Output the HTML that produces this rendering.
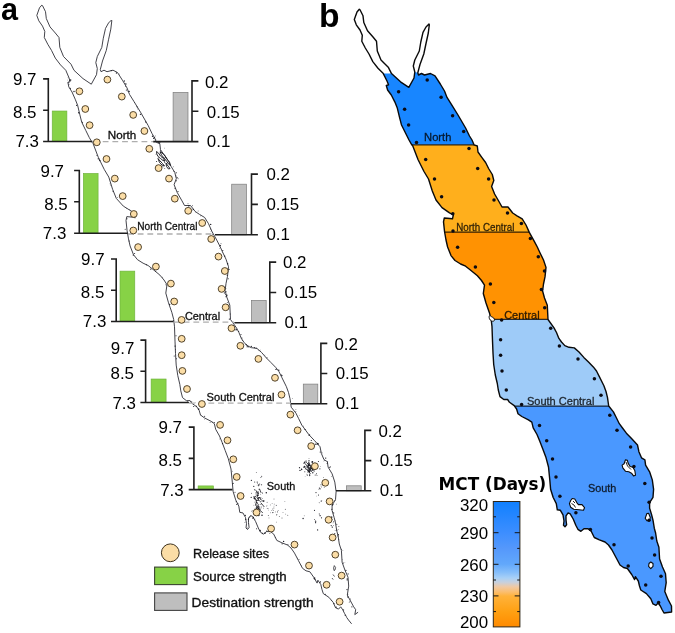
<!DOCTYPE html>
<html lang="en"><head><meta charset="utf-8"><title>Connectivity figure</title>
<style>html,body{margin:0;padding:0;background:#fff}svg{display:block}.n{font-family:"Liberation Sans",Arial,sans-serif;font-size:16.9px;fill:#000}.r{font-family:"Liberation Sans",Arial,sans-serif;font-size:10.9px;fill:#111;stroke:#111;stroke-width:0.3px}.rb{font-family:"Liberation Sans",Arial,sans-serif;font-size:10.9px;fill:#000;stroke:#000;stroke-width:0.3px;opacity:0.82}.lg{font-family:"Liberation Sans",Arial,sans-serif;font-size:13.6px;fill:#111;stroke:#111;stroke-width:0.35px}.pl{font-family:"Liberation Sans",Arial,sans-serif;font-size:32px;font-weight:bold;fill:#000}.ct{font-family:"DejaVu Sans","Liberation Sans",sans-serif;font-size:18px;font-weight:bold;fill:#000}</style></head><body>
<svg width="675" height="633" viewBox="0 0 675 633">
<rect width="675" height="633" fill="#fff"/>
<defs>
<clipPath id="body"><path d="M383.3 73.6 L387.0 81.0 L388.5 84.8 L386.3 85.5 L387.6 90.0 L391.3 95.0 L394.9 102.1 L397.3 108.1 L399.6 117.6 L401.4 124.7 L405.5 133.0 L409.0 140.0 L411.8 144.8 L412.8 146.0 L418.0 159.5 L424.0 171.5 L428.5 179.0 L432.3 191.0 L436.0 200.0 L442.0 207.6 L449.5 212.8 L453.3 215.0 L452.5 218.8 L444.3 218.0 L443.5 221.8 L444.6 232.0 L446.0 240.0 L447.6 247.0 L451.0 255.6 L455.0 260.5 L460.6 264.0 L465.6 266.2 L471.0 270.5 L477.4 275.7 L481.5 280.5 L484.5 285.2 L483.3 293.5 L486.0 303.0 L489.3 312.4 L491.2 319.5 L492.0 326.7 L492.5 340.8 L493.0 353.0 L493.7 364.5 L495.3 375.0 L497.3 383.5 L498.3 390.0 L500.0 396.6 L503.8 399.5 L507.6 399.5 L509.5 402.3 L514.2 405.6 L516.6 409.0 L518.0 413.7 L521.8 416.5 L528.4 419.9 L531.8 422.2 L533.2 427.9 L537.0 434.5 L539.8 441.2 L542.7 448.8 L545.8 456.9 L548.5 467.0 L549.8 480.0 L550.6 489.2 L553.2 497.5 L556.3 503.6 L557.3 509.8 L560.4 510.3 L563.0 514.9 L564.0 521.0 L563.5 525.2 L565.0 526.7 L566.6 524.7 L566.0 520.0 L566.0 515.9 L568.1 512.9 L570.2 513.9 L573.2 519.0 L575.8 525.2 L577.9 529.3 L580.9 531.3 L584.0 528.8 L588.1 528.8 L591.2 531.3 L594.3 537.5 L599.4 539.8 L605.0 542.0 L608.5 545.0 L612.0 550.0 L616.0 557.5 L620.0 565.0 L623.5 567.5 L627.4 568.5 L631.7 574.5 L634.6 579.6 L635.4 576.7 L638.3 581.0 L639.5 586.0 L640.8 590.0 L646.4 593.6 L650.8 598.7 L653.0 603.9 L656.0 605.3 L658.2 603.0 L660.3 606.0 L662.0 609.5 L664.0 613.0 L671.6 612.0 L671.5 606.0 L668.4 600.2 L664.8 591.4 L666.2 582.6 L665.5 573.8 L662.5 567.0 L659.6 559.0 L658.9 547.3 L656.8 541.0 L655.6 533.0 L654.3 528.2 L653.0 520.2 L651.6 514.8 L649.6 508.1 L649.6 502.7 L653.0 497.3 L653.6 489.3 L652.3 479.9 L649.6 471.8 L645.6 465.1 L644.9 459.8 L641.5 457.8 L638.9 451.7 L637.5 445.0 L632.0 439.0 L626.4 433.2 L622.5 428.0 L619.3 423.7 L616.0 417.0 L613.4 411.9 L608.7 406.0 L607.5 397.7 L606.0 391.5 L603.9 385.8 L599.2 376.4 L596.5 371.0 L593.3 366.9 L588.5 362.0 L583.8 357.4 L579.0 352.0 L574.3 347.9 L569.0 347.3 L564.8 345.6 L561.5 342.0 L558.9 338.4 L556.5 332.5 L554.0 327.8 L548.0 319.5 L547.3 305.3 L544.5 298.0 L542.6 291.0 L543.5 284.0 L545.0 276.9 L546.0 267.4 L543.5 260.0 L540.2 253.2 L537.3 247.0 L534.3 241.3 L529.3 232.4 L526.0 225.0 L522.2 218.9 L517.0 215.8 L512.7 213.0 L508.0 207.0 L502.0 207.0 L499.5 202.5 L494.6 194.0 L491.6 186.5 L493.8 180.5 L492.3 174.5 L488.6 168.5 L485.6 162.5 L481.8 157.3 L478.0 152.0 L477.3 146.0 L474.0 144.8 L472.0 140.0 L469.5 136.0 L465.6 128.0 L458.0 115.0 L451.4 104.3 L447.0 97.4 L444.5 91.0 L440.3 84.0 L435.0 75.8 L430.5 73.5 L424.5 75.0 L421.5 73.5 L418.5 75.0 L417.8 72.8 L414.8 72.0 L414.0 78.0 L408.8 87.3 L400.5 81.8 L391.5 73.6 Z"/></clipPath>
<linearGradient id="cb" x1="0" y1="0" x2="0" y2="1"><stop offset="0" stop-color="#1080FF"/><stop offset="0.25" stop-color="#3D8EFF"/><stop offset="0.375" stop-color="#5598FB"/><stop offset="0.5" stop-color="#62A8FB"/><stop offset="0.565" stop-color="#86BEFA"/><stop offset="0.61" stop-color="#A8D0F6"/><stop offset="0.645" stop-color="#C8D0DC"/><stop offset="0.68" stop-color="#EFC9A4"/><stop offset="0.72" stop-color="#FBBE70"/><stop offset="0.755" stop-color="#FFB23A"/><stop offset="0.88" stop-color="#FFA012"/><stop offset="1" stop-color="#FF8A00"/></linearGradient>
</defs>
<g id="panel-a">
<text class="pl" style="font-size:30.6px" x="0.9" y="19.5">a</text>
<path d="M41.8 5.1 L39.5 7.8 L36.8 15.4 L38.8 20.8 L42.5 26.1 L44.8 31.4 L44.3 37.5 L47.8 44.3 L51.5 50.4 L55.3 58.1 L60.5 64.9 L65.8 70.3 L69.0 77.8 L70.1 81.6 L67.9 82.3 L68.8 86.9 L72.0 92.0 L75.2 99.2 L77.6 105.2 L79.9 114.9 L81.7 122.1 L85.8 130.5 L89.3 137.6 L92.1 142.4 L93.1 143.6 L98.3 157.3 L104.3 169.5 L108.8 177.1 L112.6 189.3 L116.3 198.4 L123.3 206.1 L131.6 211.3 L135.7 213.6 L135.0 217.4 L126.8 216.6 L126.0 220.5 L127.1 230.8 L128.5 238.9 L130.1 246.0 L133.5 254.7 L137.5 259.7 L143.1 263.2 L148.1 265.5 L153.5 269.8 L159.9 275.1 L164.0 280.0 L167.0 284.7 L165.8 293.1 L168.5 302.8 L171.8 312.3 L173.7 319.5 L174.5 326.8 L175.0 341.1 L175.5 353.4 L176.2 365.1 L177.8 375.7 L179.8 384.3 L180.8 390.9 L182.5 397.6 L186.3 400.6 L190.1 400.6 L192.0 403.4 L196.7 406.7 L199.1 410.2 L200.5 415.0 L204.3 417.8 L210.9 421.2 L214.3 423.6 L215.7 429.3 L219.5 436.0 L222.3 442.8 L225.2 450.5 L228.3 458.7 L231.0 469.0 L232.3 482.2 L233.1 491.5 L235.7 499.9 L238.8 506.1 L239.8 512.4 L242.9 512.9 L245.5 517.5 L246.5 523.7 L246.0 528.0 L247.5 529.5 L249.1 527.5 L248.5 522.7 L248.5 518.5 L250.6 515.5 L252.7 516.5 L255.7 521.7 L258.3 528.0 L260.4 532.1 L263.4 534.1 L266.5 531.6 L270.6 531.6 L273.7 534.1 L276.8 540.4 L281.9 542.8 L287.5 545.0 L291.0 548.0 L294.5 553.1 L298.5 560.7 L302.5 568.3 L306.0 570.8 L309.9 571.8 L314.2 577.9 L317.1 583.1 L317.9 580.2 L320.8 584.5 L322.0 589.6 L323.3 593.6 L328.9 597.3 L333.3 602.5 L335.5 607.7 L338.5 609.1 L340.7 606.8 L342.8 609.9 L344.5 613.4 L346.5 616.9" fill="none" stroke="#2e2e36" stroke-width="0.9" stroke-linejoin="round"/>
<path d="M41.8 5.3 L42.5 5.6 L45.5 11.7 L46.3 18.5 L50.0 26.9 L55.3 33.0 L59.0 37.5 L59.8 47.4 L63.5 56.5 L71.0 64.2 L74.0 70.3 L83.0 78.6 L91.3 84.2 L96.5 74.7 L97.3 68.6 L95.8 62.6 L97.3 56.5 L101.8 47.4 L103.3 38.2 L105.5 28.4 L108.5 23.0 L111.5 20.0 L111.8 20.8 L110.8 29.1 L108.5 39.8 L106.3 50.4 L102.5 61.0 L100.3 69.5 L101.0 71.7 L104.0 70.2 L107.0 71.7 L113.0 70.2 L117.5 72.5 L122.8 80.8 L127.0 87.9 L129.5 94.4 L133.9 101.4 L140.5 112.2 L148.1 125.4 L152.0 133.5 L154.5 137.6 L156.5 142.4 L159.8 143.6 L160.5 149.7 L164.3 155.1 L168.1 160.4 L171.1 166.4 L174.8 172.5 L176.3 178.6 L174.1 184.7 L177.1 192.3 L182.0 200.9 L184.5 205.5 L190.5 205.5 L195.2 211.5 L199.5 214.4 L204.7 217.5 L208.5 223.7 L211.8 231.2 L216.8 240.2 L219.8 246.0 L222.7 252.3 L226.0 259.2 L228.5 266.7 L227.5 276.3 L226.0 283.5 L225.1 290.6 L227.0 297.7 L229.8 305.1 L230.5 319.5 L236.5 327.9 L239.0 332.7 L241.4 338.6 L244.0 342.3 L247.3 345.9 L251.5 347.7 L256.8 348.3 L261.5 352.4 L266.3 357.9 L271.0 362.6 L275.8 367.5 L279.0 371.7 L281.7 377.2 L286.4 386.7 L288.5 392.5 L290.0 398.7 L291.2 407.2 L295.9 413.1 L298.5 418.3 L301.8 425.1 L305.0 429.4 L308.9 434.7 L314.5 440.6 L320.0 446.7 L321.4 453.5 L324.0 459.7 L327.4 461.7 L328.1 467.1 L332.1 473.8 L334.8 482.1 L336.1 491.6 L335.5 499.7 L332.1 505.2 L332.1 510.6 L334.1 517.4 L335.5 522.9 L336.8 531.0 L338.1 535.9 L339.3 544.0 L341.4 550.4 L342.1 562.2 L345.0 570.3 L348.0 577.2 L348.7 586.1 L347.3 595.1 L353.7 606.8 L355.7 609.7 L354.8 614.6 L358.1 612.2" fill="none" stroke="#2e2e36" stroke-width="0.9" stroke-linejoin="round"/>
<path d="M346.5 617.2 L348.5 620 L351.6 623.8" fill="none" stroke="#2e2e36" stroke-width="0.9"/>
<g fill="#1a1a22"><circle cx="256.7" cy="507.6" r="0.59"/><circle cx="261.1" cy="507.9" r="0.46"/><circle cx="261.1" cy="506.8" r="0.32"/><circle cx="256.4" cy="504.4" r="0.34"/><circle cx="252.2" cy="510.7" r="0.36"/><circle cx="258.3" cy="515.5" r="0.73"/><circle cx="254.7" cy="498.8" r="0.74"/><circle cx="263.6" cy="508.1" r="0.43"/><circle cx="258.5" cy="506.5" r="0.44"/><circle cx="258.3" cy="497.8" r="0.56"/><circle cx="255.5" cy="496.3" r="0.55"/><circle cx="258.5" cy="504.2" r="0.39"/><circle cx="256.1" cy="494.4" r="0.44"/><circle cx="254.5" cy="497.9" r="0.43"/><circle cx="258.9" cy="489.6" r="0.41"/><circle cx="254.0" cy="498.0" r="0.69"/><circle cx="257.2" cy="495.6" r="0.74"/><circle cx="260.0" cy="509.3" r="0.64"/><circle cx="259.6" cy="511.5" r="0.32"/><circle cx="254.8" cy="489.7" r="0.56"/><circle cx="259.5" cy="497.5" r="0.61"/><circle cx="254.0" cy="496.4" r="0.51"/><circle cx="261.6" cy="484.7" r="0.51"/><circle cx="256.9" cy="500.3" r="0.62"/><circle cx="251.4" cy="480.3" r="0.67"/><circle cx="256.8" cy="511.7" r="0.60"/><circle cx="261.0" cy="504.4" r="0.38"/><circle cx="258.3" cy="505.1" r="0.65"/><circle cx="259.2" cy="507.9" r="0.48"/><circle cx="258.4" cy="500.3" r="0.50"/><circle cx="251.2" cy="497.3" r="0.67"/><circle cx="259.2" cy="497.5" r="0.49"/><circle cx="253.3" cy="517.5" r="0.73"/><circle cx="258.7" cy="507.6" r="0.40"/><circle cx="257.9" cy="513.3" r="0.57"/><circle cx="257.5" cy="503.8" r="0.49"/><circle cx="254.7" cy="511.5" r="0.73"/><circle cx="256.1" cy="492.9" r="0.58"/><circle cx="257.0" cy="500.3" r="0.70"/><circle cx="258.7" cy="485.0" r="0.66"/><circle cx="255.0" cy="508.7" r="0.35"/><circle cx="256.7" cy="500.6" r="0.33"/><circle cx="258.0" cy="508.2" r="0.45"/><circle cx="257.6" cy="503.1" r="0.37"/><circle cx="259.9" cy="508.1" r="0.31"/><circle cx="260.6" cy="494.2" r="0.37"/><circle cx="257.5" cy="511.3" r="0.46"/><circle cx="262.0" cy="515.2" r="0.75"/><circle cx="253.9" cy="505.2" r="0.34"/><circle cx="259.8" cy="507.9" r="0.42"/><circle cx="258.4" cy="498.3" r="0.31"/><circle cx="261.2" cy="499.7" r="0.37"/><circle cx="256.8" cy="502.4" r="0.54"/><circle cx="263.8" cy="500.6" r="0.61"/><circle cx="257.3" cy="511.6" r="0.38"/><circle cx="258.0" cy="492.0" r="0.65"/><circle cx="256.4" cy="508.6" r="0.67"/><circle cx="263.7" cy="501.3" r="0.66"/><circle cx="259.7" cy="489.6" r="0.40"/><circle cx="254.5" cy="502.1" r="0.31"/><circle cx="260.1" cy="504.3" r="0.42"/><circle cx="254.7" cy="481.9" r="0.50"/><circle cx="266.3" cy="492.7" r="0.73"/><circle cx="256.0" cy="507.8" r="0.40"/><circle cx="258.2" cy="508.7" r="0.58"/><circle cx="262.5" cy="492.9" r="0.52"/><circle cx="254.2" cy="489.8" r="0.34"/><circle cx="253.8" cy="486.3" r="0.65"/><circle cx="257.5" cy="492.7" r="0.38"/><circle cx="258.2" cy="495.2" r="0.66"/><circle cx="260.7" cy="501.4" r="0.48"/><circle cx="262.4" cy="498.3" r="0.38"/><circle cx="258.8" cy="506.7" r="0.71"/><circle cx="258.1" cy="498.3" r="0.67"/><circle cx="262.1" cy="501.4" r="0.46"/><circle cx="255.9" cy="501.6" r="0.31"/><circle cx="262.1" cy="500.6" r="0.54"/><circle cx="260.6" cy="499.1" r="0.69"/><circle cx="258.5" cy="497.5" r="0.41"/><circle cx="256.9" cy="509.4" r="0.56"/><circle cx="257.3" cy="512.4" r="0.36"/><circle cx="260.0" cy="498.5" r="0.51"/><circle cx="251.5" cy="493.2" r="0.49"/><circle cx="260.8" cy="497.8" r="0.54"/><circle cx="256.9" cy="502.7" r="0.50"/><circle cx="273.3" cy="510.4" r="0.46"/><circle cx="276.7" cy="515.0" r="0.45"/><circle cx="267.2" cy="508.5" r="0.40"/><circle cx="261.5" cy="507.0" r="0.32"/><circle cx="268.1" cy="508.6" r="0.36"/><circle cx="274.2" cy="504.1" r="0.41"/><circle cx="274.0" cy="499.0" r="0.39"/><circle cx="266.7" cy="506.1" r="0.40"/><circle cx="270.3" cy="504.9" r="0.41"/><circle cx="256.5" cy="511.6" r="0.44"/><circle cx="284.9" cy="501.6" r="0.35"/><circle cx="257.4" cy="505.6" r="0.47"/><circle cx="275.3" cy="511.9" r="0.39"/><circle cx="277.7" cy="511.6" r="0.31"/><circle cx="267.1" cy="502.3" r="0.48"/><circle cx="279.3" cy="516.5" r="0.43"/><circle cx="282.0" cy="518.1" r="0.49"/><circle cx="276.3" cy="522.1" r="0.38"/><circle cx="251.9" cy="511.2" r="0.47"/><circle cx="276.9" cy="514.5" r="0.40"/><circle cx="270.5" cy="512.8" r="0.36"/><circle cx="272.8" cy="509.0" r="0.41"/><circle cx="271.8" cy="510.3" r="0.37"/><circle cx="267.0" cy="505.8" r="0.31"/><circle cx="285.3" cy="509.2" r="0.49"/><circle cx="277.4" cy="512.4" r="0.31"/><circle cx="274.0" cy="506.1" r="0.33"/><circle cx="259.4" cy="515.2" r="0.46"/><circle cx="272.8" cy="512.8" r="0.48"/><circle cx="263.2" cy="506.7" r="0.32"/><circle cx="283.0" cy="512.7" r="0.39"/><circle cx="287.8" cy="515.2" r="0.43"/><circle cx="273.9" cy="508.0" r="0.47"/><circle cx="285.7" cy="514.1" r="0.39"/><circle cx="268.3" cy="515.4" r="0.49"/><circle cx="272.6" cy="512.6" r="0.41"/><circle cx="273.2" cy="512.4" r="0.33"/><circle cx="277.5" cy="511.0" r="0.36"/><circle cx="269.0" cy="517.9" r="0.36"/><circle cx="268.6" cy="510.0" r="0.37"/><circle cx="278.3" cy="510.4" r="0.30"/><circle cx="272.1" cy="503.7" r="0.34"/><circle cx="256.9" cy="511.8" r="0.32"/><circle cx="276.1" cy="505.2" r="0.40"/><circle cx="276.5" cy="505.7" r="0.40"/><circle cx="256.3" cy="472.5" r="0.40"/><circle cx="260.9" cy="477.6" r="0.49"/><circle cx="257.1" cy="485.1" r="0.32"/><circle cx="259.7" cy="484.1" r="0.52"/><circle cx="258.9" cy="485.4" r="0.33"/><circle cx="261.7" cy="476.2" r="0.50"/><circle cx="258.6" cy="485.9" r="0.39"/><circle cx="257.6" cy="483.6" r="0.43"/><circle cx="258.5" cy="493.2" r="0.59"/><circle cx="257.2" cy="482.1" r="0.59"/><circle cx="307.3" cy="472.4" r="0.30"/><circle cx="304.8" cy="471.8" r="0.50"/><circle cx="310.8" cy="473.6" r="0.30"/><circle cx="308.8" cy="470.2" r="0.46"/><circle cx="310.0" cy="468.3" r="0.42"/><circle cx="309.7" cy="474.6" r="0.51"/><circle cx="309.0" cy="460.7" r="0.59"/><circle cx="312.6" cy="464.6" r="0.43"/><circle cx="311.8" cy="467.7" r="0.59"/><circle cx="308.1" cy="466.8" r="0.63"/><circle cx="314.5" cy="463.6" r="0.59"/><circle cx="310.0" cy="465.5" r="0.51"/><circle cx="299.5" cy="467.7" r="0.62"/><circle cx="312.1" cy="462.1" r="0.66"/><circle cx="305.9" cy="461.0" r="0.39"/><circle cx="311.6" cy="468.5" r="0.44"/><circle cx="316.5" cy="473.8" r="0.52"/><circle cx="304.1" cy="463.0" r="0.57"/><circle cx="308.6" cy="468.0" r="0.62"/><circle cx="308.9" cy="462.1" r="0.51"/><circle cx="308.0" cy="466.4" r="0.59"/><circle cx="309.0" cy="470.0" r="0.41"/><circle cx="308.6" cy="464.6" r="0.60"/><circle cx="314.8" cy="467.1" r="0.45"/><circle cx="301.5" cy="469.0" r="0.61"/><circle cx="303.7" cy="463.2" r="0.33"/><circle cx="311.3" cy="471.1" r="0.60"/><circle cx="306.8" cy="474.1" r="0.30"/><circle cx="312.7" cy="469.5" r="0.57"/><circle cx="306.3" cy="461.0" r="0.42"/><circle cx="303.4" cy="467.4" r="0.49"/><circle cx="316.8" cy="475.2" r="0.38"/><circle cx="320.6" cy="466.4" r="0.31"/><circle cx="300.0" cy="470.4" r="0.69"/><circle cx="305.2" cy="469.2" r="0.38"/><circle cx="312.2" cy="466.8" r="0.53"/><circle cx="312.8" cy="472.7" r="0.68"/><circle cx="315.2" cy="474.9" r="0.50"/><circle cx="314.9" cy="462.9" r="0.39"/><circle cx="313.6" cy="464.5" r="0.31"/><circle cx="314.8" cy="468.1" r="0.48"/><circle cx="308.1" cy="470.6" r="0.44"/><circle cx="305.1" cy="476.8" r="0.30"/><circle cx="309.0" cy="458.4" r="0.35"/><circle cx="316.1" cy="464.5" r="0.66"/><circle cx="308.7" cy="470.5" r="0.52"/><circle cx="313.8" cy="467.5" r="0.50"/><circle cx="307.2" cy="468.6" r="0.33"/><circle cx="314.4" cy="471.1" r="0.46"/><circle cx="311.7" cy="466.5" r="0.45"/><circle cx="307.4" cy="467.4" r="0.51"/><circle cx="315.9" cy="465.7" r="0.75"/><circle cx="304.7" cy="462.3" r="0.82"/><circle cx="304.6" cy="465.9" r="0.33"/><circle cx="309.1" cy="464.0" r="0.71"/><circle cx="307.9" cy="465.4" r="0.33"/><circle cx="311.0" cy="466.8" r="0.56"/><circle cx="308.0" cy="469.7" r="0.71"/><circle cx="312.0" cy="467.1" r="0.66"/><circle cx="308.2" cy="471.4" r="0.52"/><circle cx="310.4" cy="469.1" r="0.41"/><circle cx="312.6" cy="465.4" r="0.42"/><circle cx="318.4" cy="461.5" r="0.55"/><circle cx="310.8" cy="469.1" r="0.35"/><circle cx="308.7" cy="468.7" r="0.43"/><circle cx="309.3" cy="471.6" r="0.79"/><circle cx="309.5" cy="464.2" r="0.53"/><circle cx="306.4" cy="467.0" r="0.49"/><circle cx="311.9" cy="468.5" r="0.83"/><circle cx="312.2" cy="470.2" r="0.65"/><circle cx="311.0" cy="465.8" r="0.45"/><circle cx="309.5" cy="470.7" r="0.55"/><circle cx="315.5" cy="465.7" r="0.78"/><circle cx="310.3" cy="467.6" r="0.69"/><circle cx="312.4" cy="465.3" r="0.62"/><circle cx="312.7" cy="467.5" r="0.81"/><circle cx="312.4" cy="461.9" r="0.83"/><circle cx="309.5" cy="469.0" r="0.38"/><circle cx="304.7" cy="466.8" r="0.82"/><circle cx="308.7" cy="463.0" r="0.72"/><circle cx="305.6" cy="468.6" r="0.32"/><circle cx="310.0" cy="465.2" r="0.81"/><circle cx="307.8" cy="465.3" r="0.37"/><circle cx="309.4" cy="472.1" r="0.68"/><circle cx="310.4" cy="468.3" r="0.59"/><circle cx="306.7" cy="465.9" r="0.42"/><circle cx="309.1" cy="467.2" r="0.47"/><circle cx="301.7" cy="469.5" r="0.65"/><circle cx="312.2" cy="465.1" r="0.43"/><circle cx="309.7" cy="475.6" r="0.69"/><circle cx="309.3" cy="468.1" r="0.57"/><circle cx="308.0" cy="464.5" r="0.44"/><circle cx="305.9" cy="461.2" r="0.42"/><circle cx="312.3" cy="468.1" r="0.53"/><circle cx="308.6" cy="465.6" r="0.74"/><circle cx="309.2" cy="463.7" r="0.41"/><circle cx="312.2" cy="467.0" r="0.75"/><circle cx="309.8" cy="469.7" r="0.72"/><circle cx="307.3" cy="475.1" r="0.57"/><circle cx="310.4" cy="469.6" r="0.53"/><circle cx="317.3" cy="475.5" r="0.34"/><circle cx="319.4" cy="488.1" r="0.59"/><circle cx="321.6" cy="487.3" r="0.32"/><circle cx="316.0" cy="492.6" r="0.57"/><circle cx="319.9" cy="468.8" r="0.58"/><circle cx="320.1" cy="488.8" r="0.58"/><circle cx="321.0" cy="484.7" r="0.50"/><circle cx="318.9" cy="489.3" r="0.40"/><circle cx="321.1" cy="486.3" r="0.38"/><circle cx="316.5" cy="496.0" r="0.34"/><circle cx="323.0" cy="485.2" r="0.41"/><circle cx="323.4" cy="477.6" r="0.43"/><circle cx="324.2" cy="487.7" r="0.41"/><circle cx="322.7" cy="484.4" r="0.41"/><circle cx="319.2" cy="513.7" r="0.46"/><circle cx="321.9" cy="500.8" r="0.32"/><circle cx="320.1" cy="515.7" r="0.67"/><circle cx="317.6" cy="529.9" r="0.66"/><circle cx="315.5" cy="521.1" r="0.68"/><circle cx="314.5" cy="510.3" r="0.59"/><circle cx="316.0" cy="521.6" r="0.30"/><circle cx="318.5" cy="495.0" r="0.55"/><circle cx="319.2" cy="514.3" r="0.39"/><circle cx="303.1" cy="518.5" r="0.68"/><circle cx="314.5" cy="519.5" r="0.47"/><circle cx="304.2" cy="515.8" r="0.37"/><circle cx="321.2" cy="501.1" r="0.63"/><circle cx="319.2" cy="502.8" r="0.43"/><circle cx="315.6" cy="522.7" r="0.61"/><circle cx="321.5" cy="517.8" r="0.60"/><circle cx="333.0" cy="522.9" r="0.31"/><circle cx="331.7" cy="517.7" r="0.69"/><circle cx="336.3" cy="504.1" r="0.41"/><circle cx="333.6" cy="521.8" r="0.50"/><circle cx="332.6" cy="511.6" r="0.39"/><circle cx="331.2" cy="525.6" r="0.57"/><circle cx="333.0" cy="504.5" r="0.57"/><circle cx="335.1" cy="530.6" r="0.42"/><circle cx="331.7" cy="516.8" r="0.60"/><circle cx="333.4" cy="525.7" r="0.40"/><circle cx="334.8" cy="533.6" r="0.53"/><circle cx="332.3" cy="527.1" r="0.70"/><circle cx="331.9" cy="519.7" r="0.62"/><circle cx="330.4" cy="499.8" r="0.34"/><circle cx="156.6" cy="161.5" r="0.55"/><circle cx="163.9" cy="159.3" r="0.39"/><circle cx="164.7" cy="162.2" r="0.59"/><circle cx="156.0" cy="154.2" r="0.41"/><circle cx="165.5" cy="155.9" r="0.38"/><circle cx="164.5" cy="148.1" r="0.33"/><circle cx="159.0" cy="156.0" r="0.37"/><circle cx="161.7" cy="162.0" r="0.36"/><circle cx="162.9" cy="166.8" r="0.50"/><circle cx="163.2" cy="160.7" r="0.40"/><circle cx="162.0" cy="157.1" r="0.39"/><circle cx="164.8" cy="168.5" r="0.46"/><circle cx="164.5" cy="160.9" r="0.42"/><circle cx="158.2" cy="157.8" r="0.33"/><circle cx="135.0" cy="217.8" r="0.57"/><circle cx="210.1" cy="422.2" r="0.44"/><circle cx="204.6" cy="416.2" r="0.56"/><circle cx="198.5" cy="409.3" r="0.66"/><circle cx="212.3" cy="422.1" r="0.45"/><circle cx="325.3" cy="594.3" r="0.56"/><circle cx="196.3" cy="406.5" r="0.50"/><circle cx="126.5" cy="208.4" r="0.33"/><circle cx="195.1" cy="402.8" r="0.38"/><circle cx="117.6" cy="197.4" r="0.43"/><circle cx="256.6" cy="528.8" r="0.55"/><circle cx="345.2" cy="615.2" r="0.55"/><circle cx="260.4" cy="531.0" r="0.39"/><circle cx="200.9" cy="415.4" r="0.36"/><circle cx="314.1" cy="578.6" r="0.64"/><circle cx="287.9" cy="544.7" r="0.54"/><circle cx="247.5" cy="528.0" r="0.42"/><circle cx="155.7" cy="271.2" r="0.48"/><circle cx="68.9" cy="82.3" r="0.48"/><circle cx="262.2" cy="533.8" r="0.49"/><circle cx="98.2" cy="158.8" r="0.62"/><circle cx="238.5" cy="503.4" r="0.33"/><circle cx="315.0" cy="579.2" r="0.60"/><circle cx="191.4" cy="402.2" r="0.33"/><circle cx="260.1" cy="530.5" r="0.69"/><circle cx="233.1" cy="483.4" r="0.57"/><circle cx="314.7" cy="577.8" r="0.60"/><circle cx="134.0" cy="213.5" r="0.48"/><circle cx="162.5" cy="277.2" r="0.41"/><circle cx="236.0" cy="501.8" r="0.46"/><circle cx="269.5" cy="529.9" r="0.37"/><circle cx="333.9" cy="603.6" r="0.64"/><circle cx="219.4" cy="438.9" r="0.34"/><circle cx="244.9" cy="522.4" r="0.41"/><circle cx="187.5" cy="401.7" r="0.48"/><circle cx="127.0" cy="218.8" r="0.51"/><circle cx="176.0" cy="335.8" r="0.57"/><circle cx="175.4" cy="349.5" r="0.42"/><circle cx="262.8" cy="532.9" r="0.35"/><circle cx="146.5" cy="264.7" r="0.53"/><circle cx="173.4" cy="320.8" r="0.53"/><circle cx="249.8" cy="516.9" r="0.36"/><circle cx="68.0" cy="82.8" r="0.34"/><circle cx="266.7" cy="531.0" r="0.62"/><circle cx="70.8" cy="79.9" r="0.54"/><circle cx="250.8" cy="516.6" r="0.40"/><circle cx="68.1" cy="77.8" r="0.40"/><circle cx="82.5" cy="122.2" r="0.56"/><circle cx="129.1" cy="241.1" r="0.50"/><circle cx="271.1" cy="532.0" r="0.33"/><circle cx="264.8" cy="533.0" r="0.59"/><circle cx="67.6" cy="80.0" r="0.33"/><circle cx="275.2" cy="537.4" r="0.39"/><circle cx="74.0" cy="91.5" r="0.68"/><circle cx="166.0" cy="284.5" r="0.47"/><circle cx="336.1" cy="607.2" r="0.67"/><circle cx="133.3" cy="255.1" r="0.66"/><circle cx="319.6" cy="582.7" r="0.38"/><circle cx="193.7" cy="406.5" r="0.55"/><circle cx="299.0" cy="559.6" r="0.49"/><circle cx="245.3" cy="515.4" r="0.59"/><circle cx="248.7" cy="518.1" r="0.53"/><circle cx="248.7" cy="523.3" r="0.34"/><circle cx="135.6" cy="215.1" r="0.32"/><circle cx="297.4" cy="558.1" r="0.32"/><circle cx="252.9" cy="518.4" r="0.51"/><circle cx="283.6" cy="541.4" r="0.68"/><circle cx="99.8" cy="160.5" r="0.68"/><circle cx="343.6" cy="609.9" r="0.55"/><circle cx="232.4" cy="471.2" r="0.38"/><circle cx="175.1" cy="346.1" r="0.67"/><circle cx="78.7" cy="112.7" r="0.69"/><circle cx="236.8" cy="504.3" r="0.62"/><circle cx="70.3" cy="88.3" r="0.58"/><circle cx="245.7" cy="519.4" r="0.53"/><circle cx="169.7" cy="304.4" r="0.60"/><circle cx="76.6" cy="105.3" r="0.62"/><circle cx="125.2" cy="229.2" r="0.51"/><circle cx="248.4" cy="519.4" r="0.58"/><circle cx="235.0" cy="492.3" r="0.50"/><circle cx="301.4" cy="565.5" r="0.34"/><circle cx="198.8" cy="408.9" r="0.56"/><circle cx="186.9" cy="402.5" r="0.50"/><circle cx="190.5" cy="401.8" r="0.35"/><circle cx="255.0" cy="519.1" r="0.44"/><circle cx="176.5" cy="358.8" r="0.52"/><circle cx="174.2" cy="356.0" r="0.53"/><circle cx="113.0" cy="191.2" r="0.50"/><circle cx="166.1" cy="285.6" r="0.36"/><circle cx="135.4" cy="212.3" r="0.44"/><circle cx="150.8" cy="269.2" r="0.59"/><circle cx="99.0" cy="158.8" r="0.36"/><circle cx="129.8" cy="209.3" r="0.38"/><circle cx="269.9" cy="533.4" r="0.49"/><circle cx="69.6" cy="80.6" r="0.50"/><circle cx="265.0" cy="533.5" r="0.60"/><circle cx="70.6" cy="80.1" r="0.53"/><circle cx="320.5" cy="581.9" r="0.56"/><circle cx="331.2" cy="600.3" r="0.37"/><circle cx="110.0" cy="183.8" r="0.34"/><circle cx="204.7" cy="419.5" r="0.36"/><circle cx="214.3" cy="422.6" r="0.51"/><circle cx="282.1" cy="543.8" r="0.61"/><circle cx="196.3" cy="406.0" r="0.40"/><circle cx="134.6" cy="253.4" r="0.51"/><circle cx="96.9" cy="155.4" r="0.49"/><circle cx="69.0" cy="84.3" r="0.46"/><circle cx="222.5" cy="443.6" r="0.61"/><circle cx="110.6" cy="185.1" r="0.40"/><circle cx="191.8" cy="401.8" r="0.47"/><circle cx="351.9" cy="606.8" r="0.60"/><circle cx="330.6" cy="466.8" r="0.48"/><circle cx="178.0" cy="191.6" r="0.55"/><circle cx="303.5" cy="426.1" r="0.36"/><circle cx="350.4" cy="599.1" r="0.49"/><circle cx="225.5" cy="294.6" r="0.49"/><circle cx="212.6" cy="234.2" r="0.47"/><circle cx="188.0" cy="203.8" r="0.44"/><circle cx="347.2" cy="580.0" r="0.55"/><circle cx="347.9" cy="594.8" r="0.45"/><circle cx="155.5" cy="135.9" r="0.36"/><circle cx="246.2" cy="344.6" r="0.68"/><circle cx="347.2" cy="579.0" r="0.64"/><circle cx="188.8" cy="205.9" r="0.66"/><circle cx="329.8" cy="467.3" r="0.61"/><circle cx="349.2" cy="602.7" r="0.42"/><circle cx="316.7" cy="444.5" r="0.48"/><circle cx="162.5" cy="153.4" r="0.36"/><circle cx="315.4" cy="444.2" r="0.58"/><circle cx="219.3" cy="248.6" r="0.30"/><circle cx="236.3" cy="329.6" r="0.64"/><circle cx="260.3" cy="350.0" r="0.37"/><circle cx="256.2" cy="348.3" r="0.57"/><circle cx="241.9" cy="338.1" r="0.60"/><circle cx="174.6" cy="171.4" r="0.44"/><circle cx="347.0" cy="589.6" r="0.61"/><circle cx="200.6" cy="215.9" r="0.32"/><circle cx="226.1" cy="291.8" r="0.50"/><circle cx="227.2" cy="275.6" r="0.50"/><circle cx="165.2" cy="157.6" r="0.53"/><circle cx="343.4" cy="562.9" r="0.52"/><circle cx="278.3" cy="370.1" r="0.30"/><circle cx="192.7" cy="210.7" r="0.32"/><circle cx="320.2" cy="452.0" r="0.55"/><circle cx="336.9" cy="530.1" r="0.55"/><circle cx="342.4" cy="559.8" r="0.31"/><circle cx="159.0" cy="142.7" r="0.63"/><circle cx="230.2" cy="314.0" r="0.47"/><circle cx="229.4" cy="319.1" r="0.67"/><circle cx="318.1" cy="444.2" r="0.62"/><circle cx="331.8" cy="509.2" r="0.57"/><circle cx="338.9" cy="526.6" r="0.49"/><circle cx="281.5" cy="375.2" r="0.66"/><circle cx="342.9" cy="550.6" r="0.35"/><circle cx="155.8" cy="139.4" r="0.41"/><circle cx="334.6" cy="500.4" r="0.32"/><circle cx="177.1" cy="177.7" r="0.58"/><circle cx="299.3" cy="415.2" r="0.32"/><circle cx="124.3" cy="81.0" r="0.63"/><circle cx="152.5" cy="136.3" r="0.68"/><circle cx="311.3" cy="440.5" r="0.59"/><circle cx="305.1" cy="429.5" r="0.45"/><circle cx="345.9" cy="570.4" r="0.61"/><circle cx="295.9" cy="411.5" r="0.42"/><circle cx="137.0" cy="106.7" r="0.54"/><circle cx="338.3" cy="534.6" r="0.63"/><circle cx="333.7" cy="512.9" r="0.57"/><circle cx="337.9" cy="535.8" r="0.58"/><circle cx="236.0" cy="329.8" r="0.63"/><circle cx="129.1" cy="91.4" r="0.70"/><circle cx="176.3" cy="172.7" r="0.57"/><circle cx="317.5" cy="443.4" r="0.62"/><circle cx="198.1" cy="211.0" r="0.42"/><circle cx="137.7" cy="108.9" r="0.40"/><circle cx="111.3" cy="70.6" r="0.62"/><circle cx="140.4" cy="114.3" r="0.65"/><circle cx="324.4" cy="460.3" r="0.39"/><circle cx="154.6" cy="137.5" r="0.53"/><circle cx="278.8" cy="370.2" r="0.67"/><circle cx="317.7" cy="443.7" r="0.61"/><circle cx="176.4" cy="180.7" r="0.54"/><circle cx="158.6" cy="142.3" r="0.49"/><circle cx="335.5" cy="500.5" r="0.34"/><circle cx="295.9" cy="409.4" r="0.40"/><circle cx="125.2" cy="83.2" r="0.31"/><circle cx="125.9" cy="84.0" r="0.68"/><circle cx="145.6" cy="121.9" r="0.58"/><circle cx="153.7" cy="138.2" r="0.68"/><circle cx="349.9" cy="601.3" r="0.45"/><circle cx="219.8" cy="246.2" r="0.40"/><circle cx="247.3" cy="346.0" r="0.67"/><circle cx="227.6" cy="263.7" r="0.69"/><circle cx="134.5" cy="102.6" r="0.38"/><circle cx="227.3" cy="302.6" r="0.49"/><circle cx="258.8" cy="350.1" r="0.37"/><circle cx="221.0" cy="243.8" r="0.49"/><circle cx="195.3" cy="211.9" r="0.33"/><circle cx="341.5" cy="549.2" r="0.48"/><circle cx="159.4" cy="143.7" r="0.33"/><circle cx="242.3" cy="340.3" r="0.45"/><circle cx="241.0" cy="334.5" r="0.52"/><circle cx="176.1" cy="176.0" r="0.40"/><circle cx="119.4" cy="74.0" r="0.37"/><circle cx="308.4" cy="435.7" r="0.36"/><circle cx="322.7" cy="452.9" r="0.38"/><circle cx="309.5" cy="435.0" r="0.69"/><circle cx="292.3" cy="398.7" r="0.34"/><circle cx="226.9" cy="295.2" r="0.69"/><circle cx="178.1" cy="178.7" r="0.44"/><circle cx="173.3" cy="166.8" r="0.41"/><circle cx="254.4" cy="347.6" r="0.53"/><circle cx="173.5" cy="171.5" r="0.37"/><circle cx="336.8" cy="524.3" r="0.50"/><circle cx="228.2" cy="278.7" r="0.55"/><circle cx="193.3" cy="209.4" r="0.59"/><circle cx="282.3" cy="375.7" r="0.44"/><circle cx="226.0" cy="288.6" r="0.31"/><circle cx="305.1" cy="429.5" r="0.53"/><circle cx="251.3" cy="346.4" r="0.64"/><circle cx="248.3" cy="347.2" r="0.35"/><circle cx="222.8" cy="250.5" r="0.58"/><circle cx="264.9" cy="355.1" r="0.34"/><circle cx="318.7" cy="443.6" r="0.35"/><circle cx="222.7" cy="252.7" r="0.34"/><circle cx="224.7" cy="256.1" r="0.67"/><circle cx="192.5" cy="205.8" r="0.49"/><circle cx="220.5" cy="245.5" r="0.59"/><circle cx="126.4" cy="90.0" r="0.60"/><circle cx="160.5" cy="150.7" r="0.54"/><circle cx="211.0" cy="231.8" r="0.37"/><circle cx="116.4" cy="73.0" r="0.64"/><circle cx="327.7" cy="461.8" r="0.45"/><circle cx="276.0" cy="369.4" r="0.69"/><circle cx="238.7" cy="331.5" r="0.51"/><circle cx="247.1" cy="347.0" r="0.45"/><circle cx="327.2" cy="463.3" r="0.57"/><circle cx="210.7" cy="224.4" r="0.67"/><circle cx="344.9" cy="562.3" r="0.32"/><circle cx="348.1" cy="573.9" r="0.55"/><circle cx="125.4" cy="86.4" r="0.47"/><circle cx="127.2" cy="91.1" r="0.35"/><circle cx="338.6" cy="529.6" r="0.33"/><circle cx="335.2" cy="520.8" r="0.35"/><circle cx="226.1" cy="296.7" r="0.59"/><circle cx="331.4" cy="476.6" r="0.39"/><circle cx="267.0" cy="357.8" r="0.52"/><circle cx="338.8" cy="539.5" r="0.43"/><circle cx="191.9" cy="209.5" r="0.30"/><circle cx="248.8" cy="346.0" r="0.43"/><circle cx="229.0" cy="269.4" r="0.61"/><circle cx="175.0" cy="188.3" r="0.56"/><circle cx="323.8" cy="461.0" r="0.34"/><circle cx="210.7" cy="229.0" r="0.47"/><circle cx="347.9" cy="597.0" r="0.64"/><circle cx="325.7" cy="458.1" r="0.70"/><circle cx="227.1" cy="272.1" r="0.35"/><circle cx="159.9" cy="142.3" r="0.50"/><circle cx="332.6" cy="505.3" r="0.55"/><circle cx="160.9" cy="152.1" r="0.59"/><circle cx="224.4" cy="292.9" r="0.56"/></g>
<g fill="none" stroke="#15151c" stroke-width="0.9" stroke-linejoin="round"><path d="M156.5 151.5 L158.5 153 L160.5 156 L163.5 158.5 L165 161 L163 160.5 L160.5 158.5 L158 156.5 L156.8 154 Z"/><path d="M160 151.8 L163 153.5 L165.5 156.5 L167.5 160 L169.5 162 L170.5 165.5 L168.5 164 L166.5 161 L164 158 L161.5 155 Z"/><path d="M158 158.5 L160 161 L162.5 163.5 L164.5 166 L162 165 L159.5 162.5 Z"/><path d="M166 163 L168 166 L170 168.5 L168.5 169 L166.5 166.5 Z"/></g>
<g fill="none" stroke="#15151c" stroke-width="0.8" stroke-linecap="round"><path d="M305 463.5 L308.5 467.5 L311 471.5 M306.5 462.5 L310 466 L313.5 471 M304 466.5 L307.5 470.5 L310 473.5 M311.5 466.5 L314 470"/><path d="M256 490.5 L258 494 L257 497.5 L259.5 501 M254.5 497 L256.5 501.5 L255.5 505 L258.5 509 M259.5 489 L261 492.5 M257 506 L260 510.5 L262.5 512.5 M261 503 L264 506.5"/></g>
<path d="M334.3 565.6 L335.6 567.5 L335 570 L334 570.6 L333.6 568 Z M333 574.5 L334.5 576.5 M332 578 L333.2 579.6" fill="none" stroke="#15151c" stroke-width="0.7"/>
<line x1="93.0" y1="141.6" x2="153.0" y2="141.6" stroke="#aeaeae" stroke-width="1.3" stroke-dasharray="5.8 3.9"/>
<line x1="128.0" y1="234.0" x2="215.0" y2="234.0" stroke="#aeaeae" stroke-width="1.3" stroke-dasharray="5.8 3.9"/>
<line x1="174.0" y1="322.1" x2="234.0" y2="322.1" stroke="#aeaeae" stroke-width="1.3" stroke-dasharray="5.8 3.9"/>
<line x1="189.0" y1="403.1" x2="291.0" y2="403.1" stroke="#aeaeae" stroke-width="1.3" stroke-dasharray="5.8 3.9"/>
<g fill="#FBDDA6" stroke="#3f321c" stroke-width="0.9"><circle cx="107.4" cy="79.6" r="3.4"/><circle cx="79.4" cy="91.3" r="3.4"/><circle cx="121.8" cy="96.6" r="3.4"/><circle cx="85.3" cy="109.0" r="3.4"/><circle cx="133.2" cy="114.9" r="3.4"/><circle cx="89.6" cy="125.2" r="3.4"/><circle cx="144.4" cy="131.0" r="3.4"/><circle cx="96.8" cy="142.3" r="3.4"/><circle cx="149.3" cy="148.8" r="3.4"/><circle cx="106.5" cy="159.0" r="3.4"/><circle cx="158.6" cy="168.1" r="3.4"/><circle cx="114.8" cy="178.6" r="3.4"/><circle cx="169.0" cy="178.6" r="3.4"/><circle cx="122.7" cy="196.1" r="3.4"/><circle cx="174.8" cy="198.7" r="3.4"/><circle cx="133.8" cy="214.0" r="3.4"/><circle cx="188.2" cy="210.8" r="3.4"/><circle cx="202.2" cy="223.0" r="3.4"/><circle cx="133.3" cy="230.5" r="3.4"/><circle cx="211.2" cy="239.0" r="3.4"/><circle cx="138.1" cy="247.1" r="3.4"/><circle cx="218.5" cy="256.6" r="3.4"/><circle cx="155.9" cy="266.6" r="3.4"/><circle cx="224.8" cy="271.0" r="3.4"/><circle cx="170.9" cy="283.6" r="3.4"/><circle cx="221.6" cy="288.9" r="3.4"/><circle cx="174.2" cy="301.5" r="3.4"/><circle cx="225.6" cy="307.3" r="3.4"/><circle cx="181.6" cy="319.9" r="3.4"/><circle cx="231.5" cy="328.2" r="3.4"/><circle cx="181.7" cy="338.8" r="3.4"/><circle cx="240.4" cy="345.8" r="3.4"/><circle cx="181.7" cy="355.2" r="3.4"/><circle cx="258.4" cy="358.9" r="3.4"/><circle cx="182.4" cy="370.9" r="3.4"/><circle cx="275.0" cy="377.8" r="3.4"/><circle cx="187.0" cy="389.0" r="3.4"/><circle cx="281.5" cy="394.7" r="3.4"/><circle cx="201.9" cy="404.0" r="3.4"/><circle cx="290.4" cy="414.6" r="3.4"/><circle cx="220.1" cy="424.9" r="3.4"/><circle cx="297.6" cy="430.3" r="3.4"/><circle cx="227.5" cy="440.3" r="3.4"/><circle cx="311.2" cy="446.1" r="3.4"/><circle cx="233.3" cy="459.3" r="3.4"/><circle cx="314.9" cy="466.2" r="3.4"/><circle cx="236.7" cy="476.9" r="3.4"/><circle cx="325.3" cy="482.8" r="3.4"/><circle cx="240.6" cy="496.0" r="3.4"/><circle cx="329.6" cy="501.4" r="3.4"/><circle cx="256.5" cy="512.5" r="3.4"/><circle cx="328.6" cy="519.8" r="3.4"/><circle cx="271.1" cy="528.6" r="3.4"/><circle cx="332.6" cy="537.5" r="3.4"/><circle cx="294.5" cy="544.6" r="3.4"/><circle cx="335.3" cy="554.7" r="3.4"/><circle cx="309.0" cy="565.6" r="3.4"/><circle cx="341.6" cy="575.6" r="3.4"/><circle cx="326.6" cy="584.8" r="3.4"/><circle cx="339.6" cy="601.7" r="3.4"/></g>
<rect x="52.2" y="111.0" width="14.7" height="30.5" fill="#87D246" stroke="#6CAE3A" stroke-width="0.6"/>
<rect x="173.1" y="92.4" width="14.9" height="49.2" fill="#BEBEBE" stroke="#7c7c7c" stroke-width="0.7"/>
<path d="M43.1 78.9 H48.3 V141.5 H92.4 M43.1 110.2 H48.3 M43.1 141.5 H48.3" fill="none" stroke="#1e1e1e" stroke-width="1.6"/>
<path d="M198.4 80.9 H192.0 V141.6 H153.2 M192.0 111.2 H198.4 M192.0 141.6 H198.4" fill="none" stroke="#1e1e1e" stroke-width="1.6"/>
<text class="n" x="13.0" y="84.9">9.7</text>
<text class="n" x="13.0" y="117.7">8.5</text>
<text class="n" x="15.4" y="147.0">7.3</text>
<text class="n" x="205.0" y="87.9">0.2</text>
<text class="n" x="206.8" y="117.5">0.15</text>
<text class="n" x="206.8" y="147.2">0.1</text>
<rect x="83.3" y="173.4" width="14.8" height="59.8" fill="#87D246" stroke="#6CAE3A" stroke-width="0.6"/>
<rect x="231.7" y="184.2" width="14.8" height="50.6" fill="#BEBEBE" stroke="#7c7c7c" stroke-width="0.7"/>
<path d="M74.1 170.5 H79.3 V233.2 H127.8 M74.1 201.8 H79.3 M74.1 233.2 H79.3" fill="none" stroke="#1e1e1e" stroke-width="1.6"/>
<path d="M257.9 174.1 H251.5 V234.8 H215.0 M251.5 204.4 H257.9 M251.5 234.8 H257.9" fill="none" stroke="#1e1e1e" stroke-width="1.6"/>
<text class="n" x="40.5" y="176.7">9.7</text>
<text class="n" x="44.2" y="210.3">8.5</text>
<text class="n" x="42.8" y="239.3">7.3</text>
<text class="n" x="266.4" y="180.1">0.2</text>
<text class="n" x="266.4" y="209.7">0.15</text>
<text class="n" x="266.4" y="239.7">0.1</text>
<rect x="120.0" y="271.1" width="14.8" height="50.4" fill="#87D246" stroke="#6CAE3A" stroke-width="0.6"/>
<rect x="251.4" y="300.4" width="14.8" height="22.4" fill="#BEBEBE" stroke="#7c7c7c" stroke-width="0.7"/>
<path d="M111.0 259.0 H116.2 V321.5 H173.3 M111.0 290.2 H116.2 M111.0 321.5 H116.2" fill="none" stroke="#1e1e1e" stroke-width="1.6"/>
<path d="M276.2 262.1 H269.8 V322.8 H234.4 M269.8 292.5 H276.2 M269.8 322.8 H276.2" fill="none" stroke="#1e1e1e" stroke-width="1.6"/>
<text class="n" x="81.1" y="264.8">9.7</text>
<text class="n" x="80.8" y="297.9">8.5</text>
<text class="n" x="82.8" y="327.3">7.3</text>
<text class="n" x="283.0" y="268.4">0.2</text>
<text class="n" x="284.4" y="297.9">0.15</text>
<text class="n" x="284.4" y="327.7">0.1</text>
<rect x="151.1" y="379.0" width="15.0" height="23.5" fill="#87D246" stroke="#6CAE3A" stroke-width="0.6"/>
<rect x="303.3" y="384.1" width="14.5" height="19.6" fill="#BEBEBE" stroke="#7c7c7c" stroke-width="0.7"/>
<path d="M140.4 340.1 H145.6 V402.5 H188.9 M140.4 371.3 H145.6 M140.4 402.5 H145.6" fill="none" stroke="#1e1e1e" stroke-width="1.6"/>
<path d="M327.3 343.4 H320.9 V403.7 H291.0 M320.9 373.5 H327.3 M320.9 403.7 H327.3" fill="none" stroke="#1e1e1e" stroke-width="1.6"/>
<text class="n" x="110.8" y="353.8">9.7</text>
<text class="n" x="110.5" y="379.4">8.5</text>
<text class="n" x="112.4" y="408.9">7.3</text>
<text class="n" x="334.4" y="349.8">0.2</text>
<text class="n" x="335.7" y="379.2">0.15</text>
<text class="n" x="335.7" y="408.8">0.1</text>
<rect x="198.1" y="485.9" width="15.4" height="3.7" fill="#87D246" stroke="#6CAE3A" stroke-width="0.6"/>
<rect x="346.4" y="485.8" width="14.8" height="5.0" fill="#BEBEBE" stroke="#7c7c7c" stroke-width="0.7"/>
<path d="M188.7 427.1 H193.9 V489.6 H232.4 M188.7 458.4 H193.9 M188.7 489.6 H193.9" fill="none" stroke="#1e1e1e" stroke-width="1.6"/>
<path d="M371.3 430.4 H364.9 V490.8 H336.0 M364.9 460.6 H371.3 M364.9 490.8 H371.3" fill="none" stroke="#1e1e1e" stroke-width="1.6"/>
<text class="n" x="158.5" y="432.7">9.7</text>
<text class="n" x="158.5" y="466.2">8.5</text>
<text class="n" x="160.2" y="495.6">7.3</text>
<text class="n" x="378.4" y="436.8">0.2</text>
<text class="n" x="379.8" y="466.0">0.15</text>
<text class="n" x="379.8" y="495.8">0.1</text>
<text class="r" x="107.8" y="138.5" textLength="28.5" lengthAdjust="spacingAndGlyphs">North</text>
<text class="r" x="137.3" y="230.4" textLength="60.1" lengthAdjust="spacingAndGlyphs">North Central</text>
<text class="r" x="184.9" y="320.2" textLength="35.2" lengthAdjust="spacingAndGlyphs">Central</text>
<text class="r" x="206.6" y="400.7" textLength="67.8" lengthAdjust="spacingAndGlyphs">South Central</text>
<text class="r" x="266.8" y="489.7" textLength="28.5" lengthAdjust="spacingAndGlyphs">South</text>
<circle cx="170.3" cy="552.8" r="8.9" fill="#FBDDA6" stroke="#3f321c" stroke-width="1"/>
<rect x="154.6" y="567.1" width="32.4" height="17.5" fill="#87D246" stroke="#3a4430" stroke-width="1.1"/>
<rect x="154.6" y="592.9" width="32.4" height="17.5" fill="#BEBEBE" stroke="#444" stroke-width="1.1"/>
<text class="lg" x="193.1" y="557.6" textLength="75.9" lengthAdjust="spacingAndGlyphs">Release sites</text>
<text class="lg" x="193.1" y="581.0" textLength="93.6" lengthAdjust="spacingAndGlyphs">Source strength</text>
<text class="lg" x="191.6" y="606.6" textLength="122.0" lengthAdjust="spacingAndGlyphs">Destination strength</text>
</g>
<g id="panel-b">
<text class="pl" style="font-size:33.6px" x="318.9" y="27.2">b</text>
<g clip-path="url(#body)">
<rect x="370" y="0.0" width="310" height="144.8" fill="#1886FF"/>
<rect x="370" y="144.8" width="310" height="87.2" fill="#FFAF1C"/>
<rect x="370" y="232.0" width="310" height="87.4" fill="#FF9202"/>
<rect x="370" y="319.4" width="310" height="86.6" fill="#9ECBF8"/>
<rect x="370" y="406.0" width="310" height="234.0" fill="#4A98FF"/>
<line x1="370" x2="680" y1="144.8" y2="144.8" stroke="#000" stroke-opacity="0.8" stroke-width="1.25"/>
<line x1="370" x2="680" y1="232.0" y2="232.0" stroke="#000" stroke-opacity="0.8" stroke-width="1.25"/>
<line x1="370" x2="680" y1="319.4" y2="319.4" stroke="#000" stroke-opacity="0.8" stroke-width="1.25"/>
<line x1="370" x2="680" y1="406.0" y2="406.0" stroke="#000" stroke-opacity="0.8" stroke-width="1.25"/>
</g>
<path d="M359.3 9.3 L357.0 12.0 L354.3 19.5 L356.3 24.8 L360.0 30.0 L362.3 35.3 L361.8 41.3 L365.3 48.0 L369.0 54.0 L372.8 61.6 L378.0 68.3 L383.3 73.6 L387.0 81.0 L388.5 84.8 L386.3 85.5 L387.6 90.0 L391.3 95.0 L394.9 102.1 L397.3 108.1 L399.6 117.6 L401.4 124.7 L405.5 133.0 L409.0 140.0 L411.8 144.8 L412.8 146.0 L418.0 159.5 L424.0 171.5 L428.5 179.0 L432.3 191.0 L436.0 200.0 L442.0 207.6 L449.5 212.8 L453.3 215.0 L452.5 218.8 L444.3 218.0 L443.5 221.8 L444.6 232.0 L446.0 240.0 L447.6 247.0 L451.0 255.6 L455.0 260.5 L460.6 264.0 L465.6 266.2 L471.0 270.5 L477.4 275.7 L481.5 280.5 L484.5 285.2 L483.3 293.5 L486.0 303.0 L489.3 312.4 L491.2 319.5 L492.0 326.7 L492.5 340.8 L493.0 353.0 L493.7 364.5 L495.3 375.0 L497.3 383.5 L498.3 390.0 L500.0 396.6 L503.8 399.5 L507.6 399.5 L509.5 402.3 L514.2 405.6 L516.6 409.0 L518.0 413.7 L521.8 416.5 L528.4 419.9 L531.8 422.2 L533.2 427.9 L537.0 434.5 L539.8 441.2 L542.7 448.8 L545.8 456.9 L548.5 467.0 L549.8 480.0 L550.6 489.2 L553.2 497.5 L556.3 503.6 L557.3 509.8 L560.4 510.3 L563.0 514.9 L564.0 521.0 L563.5 525.2 L565.0 526.7 L566.6 524.7 L566.0 520.0 L566.0 515.9 L568.1 512.9 L570.2 513.9 L573.2 519.0 L575.8 525.2 L577.9 529.3 L580.9 531.3 L584.0 528.8 L588.1 528.8 L591.2 531.3 L594.3 537.5 L599.4 539.8 L605.0 542.0 L608.5 545.0 L612.0 550.0 L616.0 557.5 L620.0 565.0 L623.5 567.5 L627.4 568.5 L631.7 574.5 L634.6 579.6 L635.4 576.7 L638.3 581.0 L639.5 586.0 L640.8 590.0 L646.4 593.6 L650.8 598.7 L653.0 603.9 L656.0 605.3 L658.2 603.0 L660.3 606.0 L662.0 609.5 L664.0 613.0 L671.6 612.0 L671.5 606.0 L668.4 600.2 L664.8 591.4 L666.2 582.6 L665.5 573.8 L662.5 567.0 L659.6 559.0 L658.9 547.3 L656.8 541.0 L655.6 533.0 L654.3 528.2 L653.0 520.2 L651.6 514.8 L649.6 508.1 L649.6 502.7 L653.0 497.3 L653.6 489.3 L652.3 479.9 L649.6 471.8 L645.6 465.1 L644.9 459.8 L641.5 457.8 L638.9 451.7 L637.5 445.0 L632.0 439.0 L626.4 433.2 L622.5 428.0 L619.3 423.7 L616.0 417.0 L613.4 411.9 L608.7 406.0 L607.5 397.7 L606.0 391.5 L603.9 385.8 L599.2 376.4 L596.5 371.0 L593.3 366.9 L588.5 362.0 L583.8 357.4 L579.0 352.0 L574.3 347.9 L569.0 347.3 L564.8 345.6 L561.5 342.0 L558.9 338.4 L556.5 332.5 L554.0 327.8 L548.0 319.5 L547.3 305.3 L544.5 298.0 L542.6 291.0 L543.5 284.0 L545.0 276.9 L546.0 267.4 L543.5 260.0 L540.2 253.2 L537.3 247.0 L534.3 241.3 L529.3 232.4 L526.0 225.0 L522.2 218.9 L517.0 215.8 L512.7 213.0 L508.0 207.0 L502.0 207.0 L499.5 202.5 L494.6 194.0 L491.6 186.5 L493.8 180.5 L492.3 174.5 L488.6 168.5 L485.6 162.5 L481.8 157.3 L478.0 152.0 L477.3 146.0 L474.0 144.8 L472.0 140.0 L469.5 136.0 L465.6 128.0 L458.0 115.0 L451.4 104.3 L447.0 97.4 L444.5 91.0 L440.3 84.0 L435.0 75.8 L430.5 73.5 L424.5 75.0 L421.5 73.5 L418.5 75.0 L417.8 72.8 L420.0 64.5 L423.8 54.0 L426.0 43.5 L428.3 33.0 L429.3 24.8 L429.0 24.0 L426.0 27.0 L423.0 32.3 L420.8 42.0 L419.3 51.0 L414.8 60.0 L413.3 66.0 L414.8 72.0 L414.0 78.0 L408.8 87.3 L400.5 81.8 L391.5 73.6 L388.5 67.6 L381.0 60.0 L377.3 51.0 L376.5 41.3 L372.8 36.8 L367.5 30.8 L363.8 22.5 L363.0 15.8 L360.0 9.8 Z" fill="none" stroke="#0a0a0a" stroke-width="1.4" stroke-linejoin="round"/>
<path d="M625.4 459.8 L627.4 460.4 L628.1 463.1 L630.1 466.5 L632.8 467.1 L634.8 470.5 L635.5 475.2 L633.5 475.9 L631.5 473.2 L628.8 471.8 L625.4 471.2 L622.8 467.8 L622.1 465.1 L624.1 463.8 L624.8 461.8 Z" fill="#fff" stroke="#0a0a0a" stroke-width="1.1" stroke-linejoin="round"/>
<path d="M572.2 498.5 L574.8 499.0 L576.8 502.6 L578.4 504.6 L582.0 504.6 L584.5 507.7 L583.5 510.3 L578.9 509.8 L573.7 509.3 L570.7 507.2 L569.4 503.6 L570.7 500.5 Z" fill="#fff" stroke="#0a0a0a" stroke-width="1.1" stroke-linejoin="round"/>
<path d="M646.9 513.5 L648.6 513.3 L650.3 517.5 L649.6 520.8 L646.9 520.8 L645.2 518.2 Z" fill="#fff" stroke="#0a0a0a" stroke-width="1.1" stroke-linejoin="round"/>
<path d="M650.8 562.0 L653.0 563.5 L653.0 566.4 L650.8 568.6 L648.6 566.4 L649.0 563.5 Z" fill="#fff" stroke="#0a0a0a" stroke-width="1.1" stroke-linejoin="round"/>
<path d="M490.6 316 C488.8 314.2 488.6 318.6 490.4 320.2 C492.4 322 495 321.4 494.4 319.2 C493.8 317.2 492 317.4 490.6 316 Z" fill="#fff" stroke="#0a0a0a" stroke-width="1"/>
<path d="M626 462 L627.5 466 L631 469.5 M571.5 503.5 L574 505 L575.5 507.5 M573 501 L575 503" fill="none" stroke="#0a0a0a" stroke-width="0.9"/>
<g fill="#0a0a12"><circle cx="427.2" cy="80.0" r="1.75"/><circle cx="441.1" cy="97.2" r="1.75"/><circle cx="452.6" cy="115.7" r="1.75"/><circle cx="463.7" cy="131.5" r="1.75"/><circle cx="469.0" cy="148.5" r="1.75"/><circle cx="398.6" cy="91.8" r="1.75"/><circle cx="404.6" cy="109.3" r="1.75"/><circle cx="408.6" cy="125.0" r="1.75"/><circle cx="416.5" cy="142.6" r="1.75"/><circle cx="425.7" cy="159.6" r="1.75"/><circle cx="477.7" cy="168.6" r="1.75"/><circle cx="434.5" cy="179.0" r="1.75"/><circle cx="488.6" cy="179.0" r="1.75"/><circle cx="441.6" cy="196.8" r="1.75"/><circle cx="494.0" cy="200.0" r="1.75"/><circle cx="452.8" cy="213.7" r="1.75"/><circle cx="507.5" cy="213.0" r="1.75"/><circle cx="521.4" cy="223.6" r="1.75"/><circle cx="453.0" cy="231.0" r="1.75"/><circle cx="530.4" cy="238.5" r="1.75"/><circle cx="457.6" cy="247.2" r="1.75"/><circle cx="538.3" cy="256.8" r="1.75"/><circle cx="475.4" cy="267.0" r="1.75"/><circle cx="544.5" cy="271.0" r="1.75"/><circle cx="490.4" cy="284.0" r="1.75"/><circle cx="541.4" cy="289.4" r="1.75"/><circle cx="493.8" cy="302.5" r="1.75"/><circle cx="544.7" cy="307.7" r="1.75"/><circle cx="501.6" cy="320.0" r="1.75"/><circle cx="550.7" cy="328.3" r="1.75"/><circle cx="500.6" cy="339.8" r="1.75"/><circle cx="559.4" cy="346.0" r="1.75"/><circle cx="500.6" cy="355.2" r="1.75"/><circle cx="578.0" cy="359.0" r="1.75"/><circle cx="502.0" cy="371.0" r="1.75"/><circle cx="594.4" cy="378.7" r="1.75"/><circle cx="506.3" cy="389.9" r="1.75"/><circle cx="601.0" cy="395.3" r="1.75"/><circle cx="521.6" cy="404.5" r="1.75"/><circle cx="609.8" cy="415.3" r="1.75"/><circle cx="539.5" cy="425.5" r="1.75"/><circle cx="617.0" cy="430.3" r="1.75"/><circle cx="546.7" cy="440.7" r="1.75"/><circle cx="630.6" cy="447.0" r="1.75"/><circle cx="552.5" cy="459.0" r="1.75"/><circle cx="633.9" cy="466.5" r="1.75"/><circle cx="556.0" cy="477.0" r="1.75"/><circle cx="644.8" cy="483.4" r="1.75"/><circle cx="559.9" cy="496.2" r="1.75"/><circle cx="649.1" cy="502.3" r="1.75"/><circle cx="575.9" cy="512.8" r="1.75"/><circle cx="649.0" cy="520.3" r="1.75"/><circle cx="590.4" cy="529.5" r="1.75"/><circle cx="652.0" cy="538.0" r="1.75"/><circle cx="614.0" cy="544.8" r="1.75"/><circle cx="654.6" cy="555.0" r="1.75"/><circle cx="628.2" cy="566.0" r="1.75"/><circle cx="661.0" cy="576.3" r="1.75"/><circle cx="645.7" cy="585.0" r="1.75"/><circle cx="658.6" cy="602.5" r="1.75"/></g>
<text class="rb" x="424.1" y="141.4" textLength="27.3" lengthAdjust="spacingAndGlyphs">North</text>
<text class="rb" x="456.3" y="231.1" textLength="58.1" lengthAdjust="spacingAndGlyphs">North Central</text>
<text class="rb" x="504.2" y="318.5" textLength="35.4" lengthAdjust="spacingAndGlyphs">Central</text>
<text class="rb" x="526.9" y="404.7" textLength="67.5" lengthAdjust="spacingAndGlyphs">South Central</text>
<text class="rb" x="588.0" y="492.1" textLength="28.4" lengthAdjust="spacingAndGlyphs">South</text>
<text class="ct" x="438.6" y="490" textLength="107.6" lengthAdjust="spacingAndGlyphs">MCT (Days)</text>
<rect x="493.3" y="501.5" width="26.6" height="125.4" fill="url(#cb)" stroke="#2e2618" stroke-width="1"/>
<path d="M493.3 532.7 h5.2 M519.9 532.7 h-5.2 M493.3 564.3 h5.2 M519.9 564.3 h-5.2 M493.3 595.9 h5.2 M519.9 595.9 h-5.2 M493.3 516.8 h2.7 M519.9 516.8 h-2.7 M493.3 548.4 h2.7 M519.9 548.4 h-2.7 M493.3 580.0 h2.7 M519.9 580.0 h-2.7 M493.3 611.6 h2.7 M519.9 611.6 h-2.7 " stroke="#151515" stroke-width="1" fill="none"/>
<text class="n" x="459.9" y="511.3">320</text>
<text class="n" x="459.9" y="539.1">290</text>
<text class="n" x="459.9" y="570.8">260</text>
<text class="n" x="459.9" y="601.6">230</text>
<text class="n" x="459.9" y="627.7">200</text>
</g>
</svg></body></html>
